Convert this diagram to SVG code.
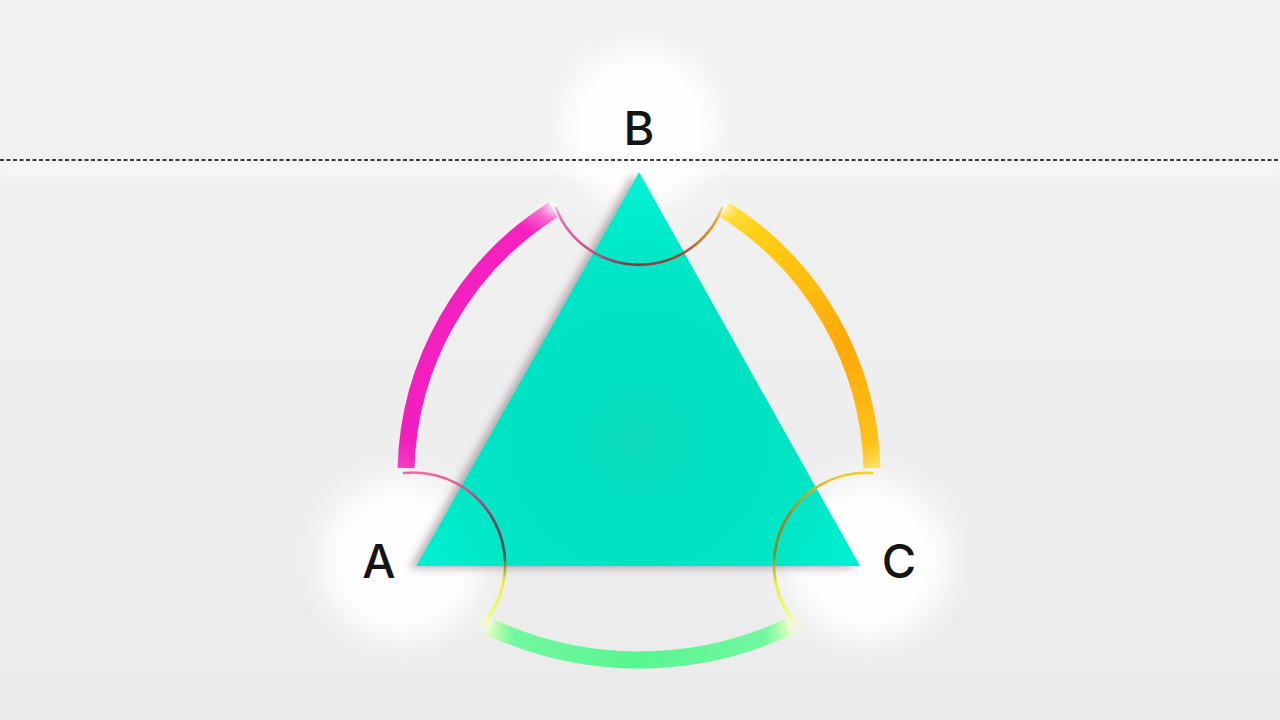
<svg xmlns="http://www.w3.org/2000/svg" width="1280" height="720" viewBox="0 0 1280 720">
  <defs>
    <style>
      .label { font-family: Inter, "Open Sans", "Liberation Sans", sans-serif; font-weight: 500; font-size: 47px; fill: #151515; text-anchor: middle; }
      .thick { fill: none; stroke-width: 17; stroke-linecap: butt; }
      .thin { fill: none; stroke-width: 2.6; stroke-linecap: round; }
      .glow { fill: #ffffff; filter: url(#blurGlow); }
    </style>
    <linearGradient id="bg" x1="0" y1="0" x2="0" y2="1">
      <stop offset="0" stop-color="#f2f2f2"/>
      <stop offset="1" stop-color="#ebebeb"/>
    </linearGradient>
    <radialGradient id="triFill" cx="639" cy="440" r="300" gradientUnits="userSpaceOnUse">
      <stop offset="0" stop-color="#07dcbd"/>
      <stop offset="0.6" stop-color="#04e6c6"/>
      <stop offset="1" stop-color="#00f8da"/>
    </radialGradient>
    <linearGradient id="gMag" x1="406" y1="470" x2="553" y2="210" gradientUnits="userSpaceOnUse">
      <stop offset="0" stop-color="#f040c0"/>
      <stop offset="0.08" stop-color="#f21fbf"/>
      <stop offset="0.9" stop-color="#f522c0"/>
      <stop offset="1" stop-color="#f88ad8"/>
    </linearGradient>
    <linearGradient id="gOra" x1="725" y1="210" x2="872" y2="470" gradientUnits="userSpaceOnUse">
      <stop offset="0" stop-color="#ffe040"/>
      <stop offset="0.12" stop-color="#ffcf14"/>
      <stop offset="0.6" stop-color="#ffa80a"/>
      <stop offset="0.92" stop-color="#ffc21a"/>
      <stop offset="1" stop-color="#ffe060"/>
    </linearGradient>
    <linearGradient id="gGrn" x1="490" y1="0" x2="788" y2="0" gradientUnits="userSpaceOnUse">
      <stop offset="0" stop-color="#c8ffb0"/>
      <stop offset="0.08" stop-color="#72f7a0"/>
      <stop offset="0.5" stop-color="#58f590"/>
      <stop offset="0.92" stop-color="#72f7a0"/>
      <stop offset="1" stop-color="#c8ffb0"/>
    </linearGradient>
    <linearGradient id="gThinB" x1="556" y1="0" x2="722" y2="0" gradientUnits="userSpaceOnUse">
      <stop offset="0" stop-color="#f070b8"/>
      <stop offset="0.45" stop-color="#8e2e4c"/>
      <stop offset="0.75" stop-color="#a04a30"/>
      <stop offset="1" stop-color="#f0b030"/>
    </linearGradient>
    <linearGradient id="gThinA" x1="0" y1="472" x2="0" y2="622" gradientUnits="userSpaceOnUse">
      <stop offset="0" stop-color="#f06aa0"/>
      <stop offset="0.3" stop-color="#8a3a6a"/>
      <stop offset="0.55" stop-color="#4a4a50"/>
      <stop offset="0.72" stop-color="#e6f020"/>
      <stop offset="1" stop-color="#f0ff60"/>
    </linearGradient>
    <linearGradient id="gThinC" x1="0" y1="472" x2="0" y2="622" gradientUnits="userSpaceOnUse">
      <stop offset="0" stop-color="#f8d020"/>
      <stop offset="0.3" stop-color="#a08020"/>
      <stop offset="0.55" stop-color="#8a8a20"/>
      <stop offset="0.75" stop-color="#eef020"/>
      <stop offset="1" stop-color="#f0ff70"/>
    </linearGradient>
    <filter id="blurGlow" x="-50%" y="-50%" width="200%" height="200%">
      <feGaussianBlur stdDeviation="14"/>
    </filter>
    <filter id="softEnd" x="-100%" y="-100%" width="300%" height="300%">
      <feGaussianBlur stdDeviation="4"/>
    </filter>
    <filter id="triShadow" x="-20%" y="-20%" width="140%" height="140%">
      <feGaussianBlur in="SourceAlpha" stdDeviation="4"/>
      <feOffset dx="-6" dy="2" result="b"/>
      <feFlood flood-color="#6a4a5a" flood-opacity="0.45"/>
      <feComposite in2="b" operator="in" result="s"/>
      <feMerge>
        <feMergeNode in="s"/>
        <feMergeNode in="SourceGraphic"/>
      </feMerge>
    </filter>
  </defs>

  <rect x="0" y="0" width="1280" height="720" fill="url(#bg)"/>
  <rect x="0" y="163" width="1280" height="12" fill="#ffffff" opacity="0.5" filter="url(#softEnd)"/>

  <g id="glows">
    <circle class="glow" cx="640" cy="128" r="80" opacity="0.95"/>
    <circle class="glow" cx="402" cy="560" r="84" opacity="0.9"/>
    <circle class="glow" cx="868" cy="560" r="84" opacity="0.9"/>
  </g>

  <line id="baseline" x1="0" y1="160" x2="1280" y2="160" stroke="#3a3a3a" stroke-width="2" stroke-dasharray="4 2.5"/>

  <g id="triangle">
    <polygon points="639,172 416,566 860,566" fill="url(#triFill)" filter="url(#triShadow)"/>
  </g>

  <g id="connectors">
    <path id="arc-AB" class="thick" d="M 406 468 A 315 315 0 0 1 553 210" stroke="url(#gMag)"/>
    <path id="arc-BC" class="thick" d="M 725 210 A 315 315 0 0 1 872 468" stroke="url(#gOra)"/>
    <path id="arc-AC" class="thick" d="M 490 627 A 353 353 0 0 0 788 627" stroke="url(#gGrn)" stroke-width="18"/>
    <path id="thin-B" class="thin" d="M 556 208 A 89 89 0 0 0 722 208" stroke="url(#gThinB)"/>
    <path id="thin-A" class="thin" d="M 404 473 A 92 92 0 0 1 485 622" stroke="url(#gThinA)"/>
    <path id="thin-C" class="thin" d="M 872 473 A 92 92 0 0 0 794 622" stroke="url(#gThinC)"/>
    <circle cx="553" cy="208" r="7" fill="#ffffff" opacity="0.7" filter="url(#softEnd)"/>
    <circle cx="725" cy="208" r="7" fill="#ffffff" opacity="0.6" filter="url(#softEnd)"/>
    <circle cx="487" cy="625" r="8" fill="#f4ffd0" opacity="0.8" filter="url(#softEnd)"/>
    <circle cx="791" cy="625" r="8" fill="#f4ffd0" opacity="0.8" filter="url(#softEnd)"/>
  </g>

  <g id="node-B"><text class="label" x="639" y="145">B</text></g>
  <g id="node-A"><text class="label" x="379" y="578">A</text></g>
  <g id="node-C"><text class="label" x="899" y="578">C</text></g>
</svg>
